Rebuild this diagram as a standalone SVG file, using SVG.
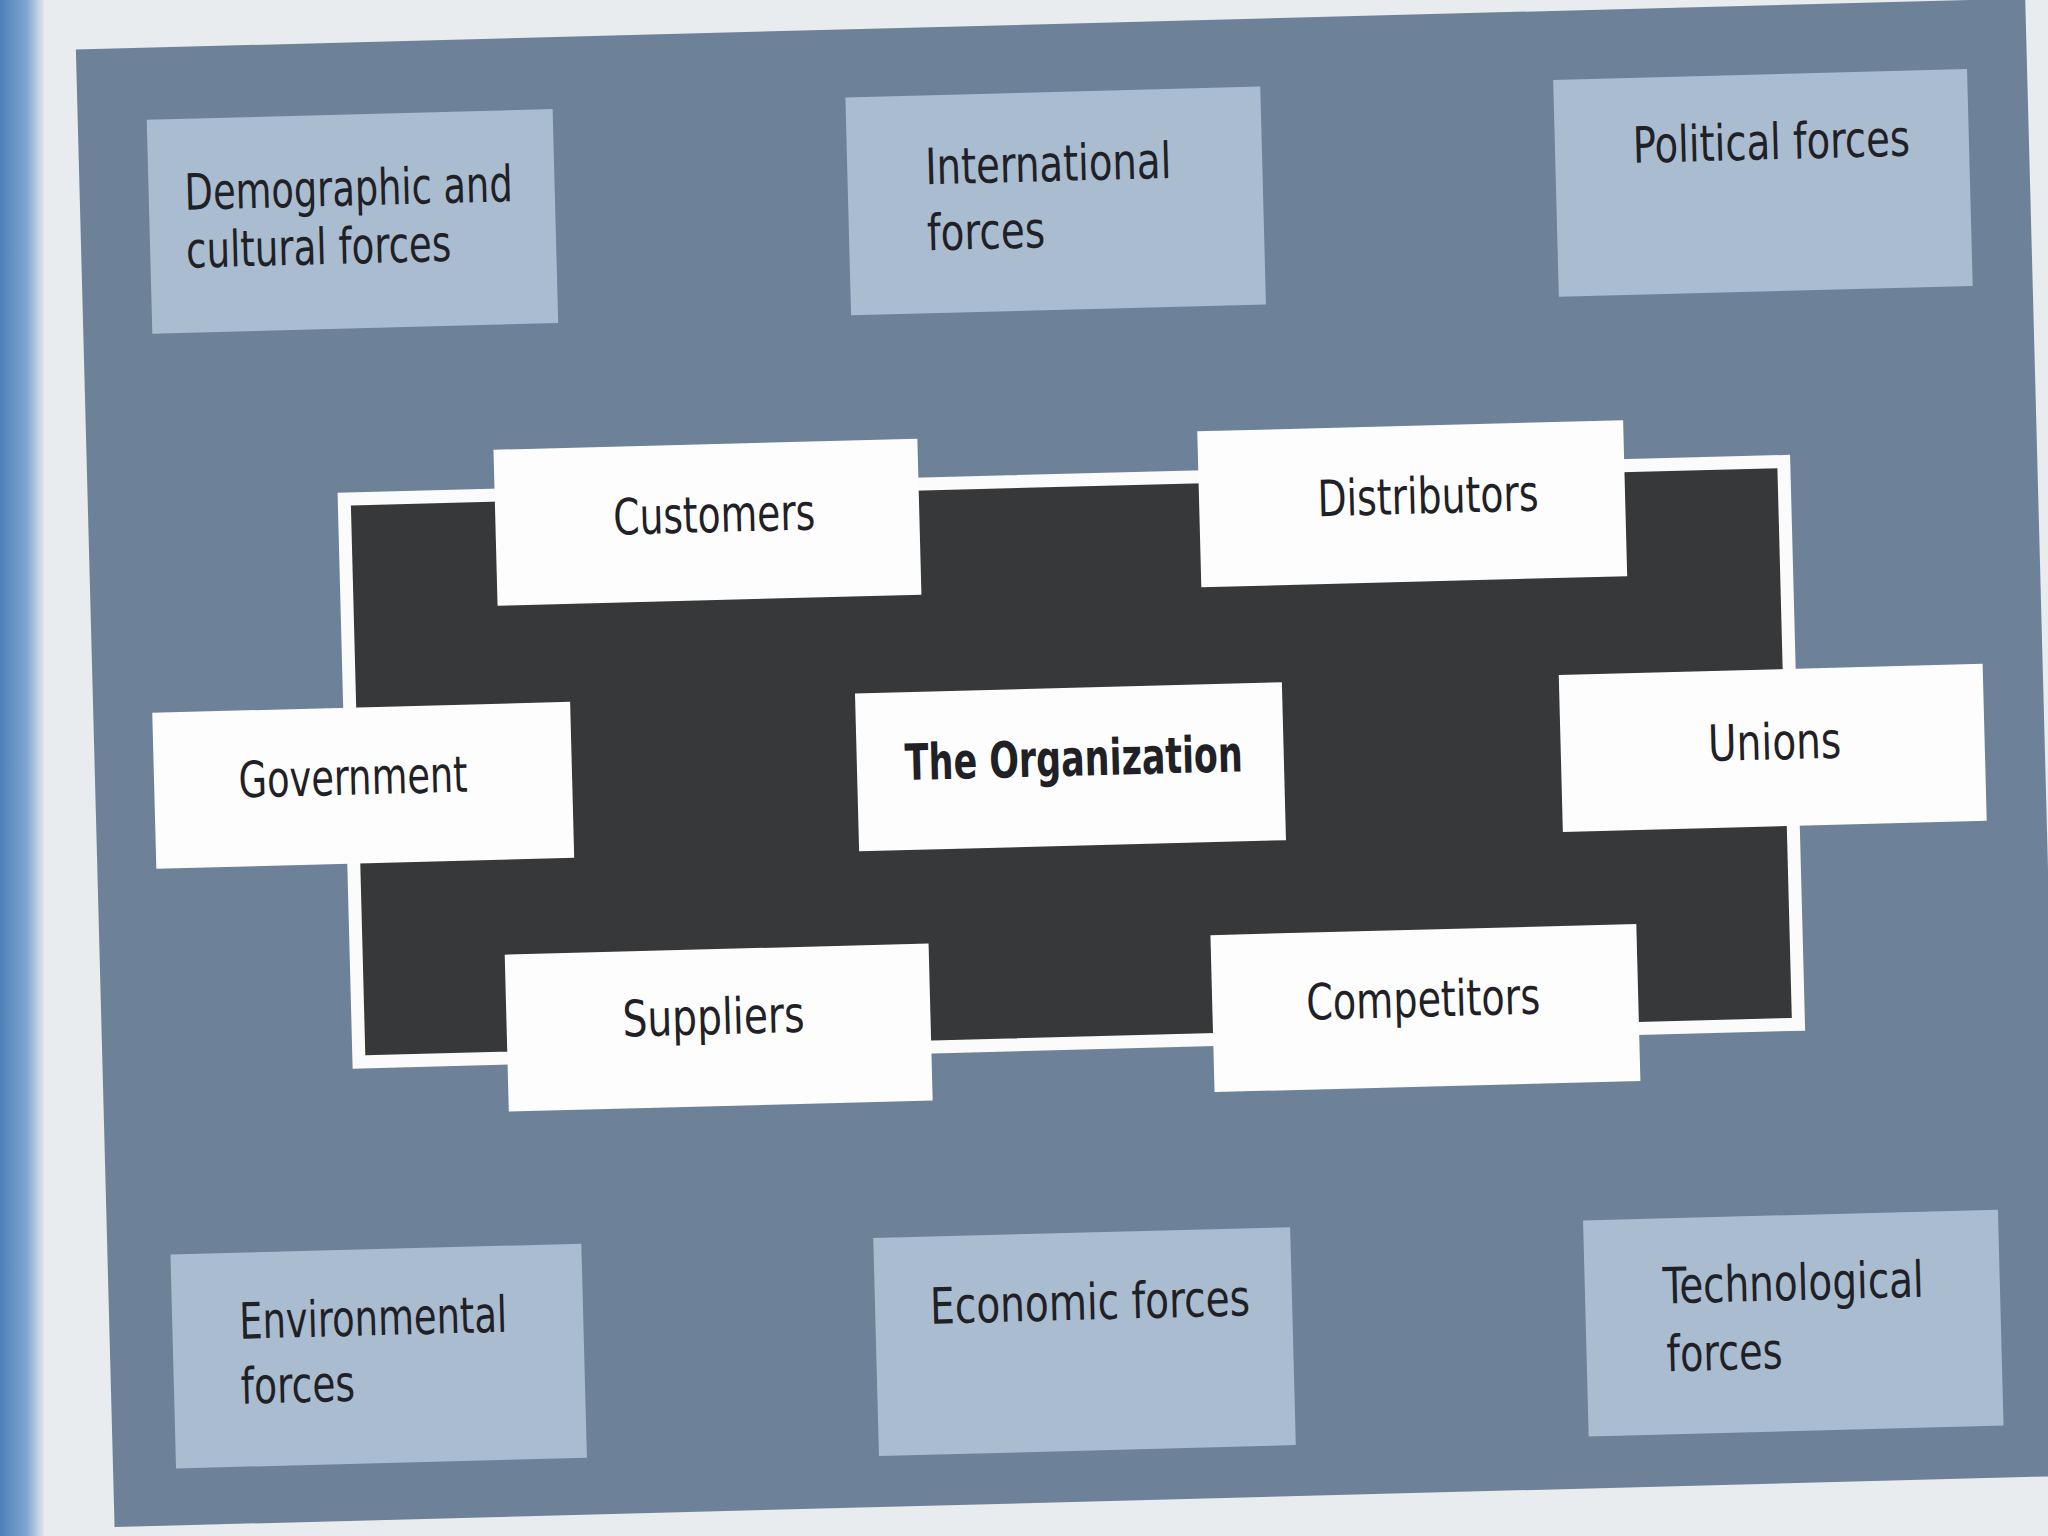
<svg xmlns="http://www.w3.org/2000/svg" width="2048" height="1536" viewBox="0 0 2048 1536">
  <defs>
    <linearGradient id="edge" x1="0" y1="0" x2="1" y2="0">
      <stop offset="0" stop-color="#4d80b8"/>
      <stop offset="0.6" stop-color="#7ea6cf"/>
      <stop offset="1" stop-color="#dfe6ec"/>
    </linearGradient>
    <style>
      .force { fill: #aabcd0; }
      .actor { fill: #fdfdfd; }
      .lbl { font-family: "Liberation Sans Narrow", "DejaVu Sans Condensed", "Liberation Sans", sans-serif; font-size: 50px; fill: #1f2126; }
      .mid { text-anchor: middle; }
      .bold { font-weight: bold; }
    </style>
  </defs>
  <rect x="0" y="0" width="2048" height="1536" fill="#e9ecee"/>
  <rect x="0" y="0" width="44" height="1536" fill="url(#edge)"/>
  <g transform="rotate(-1.5 1024 768)">
    <rect id="panel" x="95" y="25" width="1950" height="1478" fill="#6d8299"/>
    <g id="demographic">
      <rect class="force" x="164" y="97" width="406" height="214"/>
      <text class="lbl" x="200" y="188" textLength="328" lengthAdjust="spacingAndGlyphs">Demographic and</text>
      <text class="lbl" x="200" y="246" textLength="265" lengthAdjust="spacingAndGlyphs">cultural forces</text>
    </g>
    <g id="international">
      <rect class="force" x="863" y="93" width="415" height="218"/>
      <text class="lbl" x="941" y="182" textLength="246" lengthAdjust="spacingAndGlyphs">International</text>
      <text class="lbl" x="941" y="248" textLength="118" lengthAdjust="spacingAndGlyphs">forces</text>
    </g>
    <g id="political">
      <rect class="force" x="1571" y="94" width="414" height="217"/>
      <text class="lbl" x="1649" y="179" textLength="277" lengthAdjust="spacingAndGlyphs">Political forces</text>
    </g>
    <g id="environmental">
      <rect class="force" x="158" y="1232" width="411" height="214"/>
      <text class="lbl" x="225" y="1318" textLength="268" lengthAdjust="spacingAndGlyphs">Environmental</text>
      <text class="lbl" x="225" y="1383" textLength="114" lengthAdjust="spacingAndGlyphs">forces</text>
    </g>
    <g id="economic">
      <rect class="force" x="861" y="1234" width="417" height="218"/>
      <text class="lbl" x="916" y="1321" textLength="320" lengthAdjust="spacingAndGlyphs">Economic forces</text>
    </g>
    <g id="technological">
      <rect class="force" x="1571" y="1235" width="415" height="216"/>
      <text class="lbl" x="1649" y="1320" textLength="261" lengthAdjust="spacingAndGlyphs">Technological</text>
      <text class="lbl" x="1651" y="1388" textLength="116" lengthAdjust="spacingAndGlyphs">forces</text>
    </g>
    <g id="environment-core">
      <rect x="351.5" y="481.5" width="1440" height="563" fill="#37383a" stroke="#fbfbfb" stroke-width="13"/>
    </g>
    <g id="customers">
      <rect class="actor" x="502" y="436" width="424" height="156"/>
      <text class="lbl mid" x="721" y="524" textLength="202" lengthAdjust="spacingAndGlyphs">Customers</text>
    </g>
    <g id="distributors">
      <rect class="actor" x="1206" y="436" width="426" height="156"/>
      <text class="lbl mid" x="1435" y="524" textLength="221" lengthAdjust="spacingAndGlyphs">Distributors</text>
    </g>
    <g id="government">
      <rect class="actor" x="154" y="690" width="418" height="156"/>
      <text class="lbl mid" x="353" y="777" textLength="229" lengthAdjust="spacingAndGlyphs">Government</text>
    </g>
    <g id="organization">
      <rect class="actor" x="857" y="689" width="427" height="158"/>
      <text class="lbl mid bold" x="1074" y="777" textLength="338" lengthAdjust="spacingAndGlyphs">The Organization</text>
    </g>
    <g id="unions">
      <rect class="actor" x="1561" y="689" width="424" height="157"/>
      <text class="lbl mid" x="1775" y="779" textLength="133" lengthAdjust="spacingAndGlyphs">Unions</text>
    </g>
    <g id="suppliers">
      <rect class="actor" x="500" y="941" width="424" height="157"/>
      <text class="lbl mid" x="707" y="1026" textLength="182" lengthAdjust="spacingAndGlyphs">Suppliers</text>
    </g>
    <g id="competitors">
      <rect class="actor" x="1206" y="940" width="426" height="157"/>
      <text class="lbl mid" x="1417" y="1027" textLength="234" lengthAdjust="spacingAndGlyphs">Competitors</text>
    </g>
    <g id="connectors"/>
  </g>
</svg>
